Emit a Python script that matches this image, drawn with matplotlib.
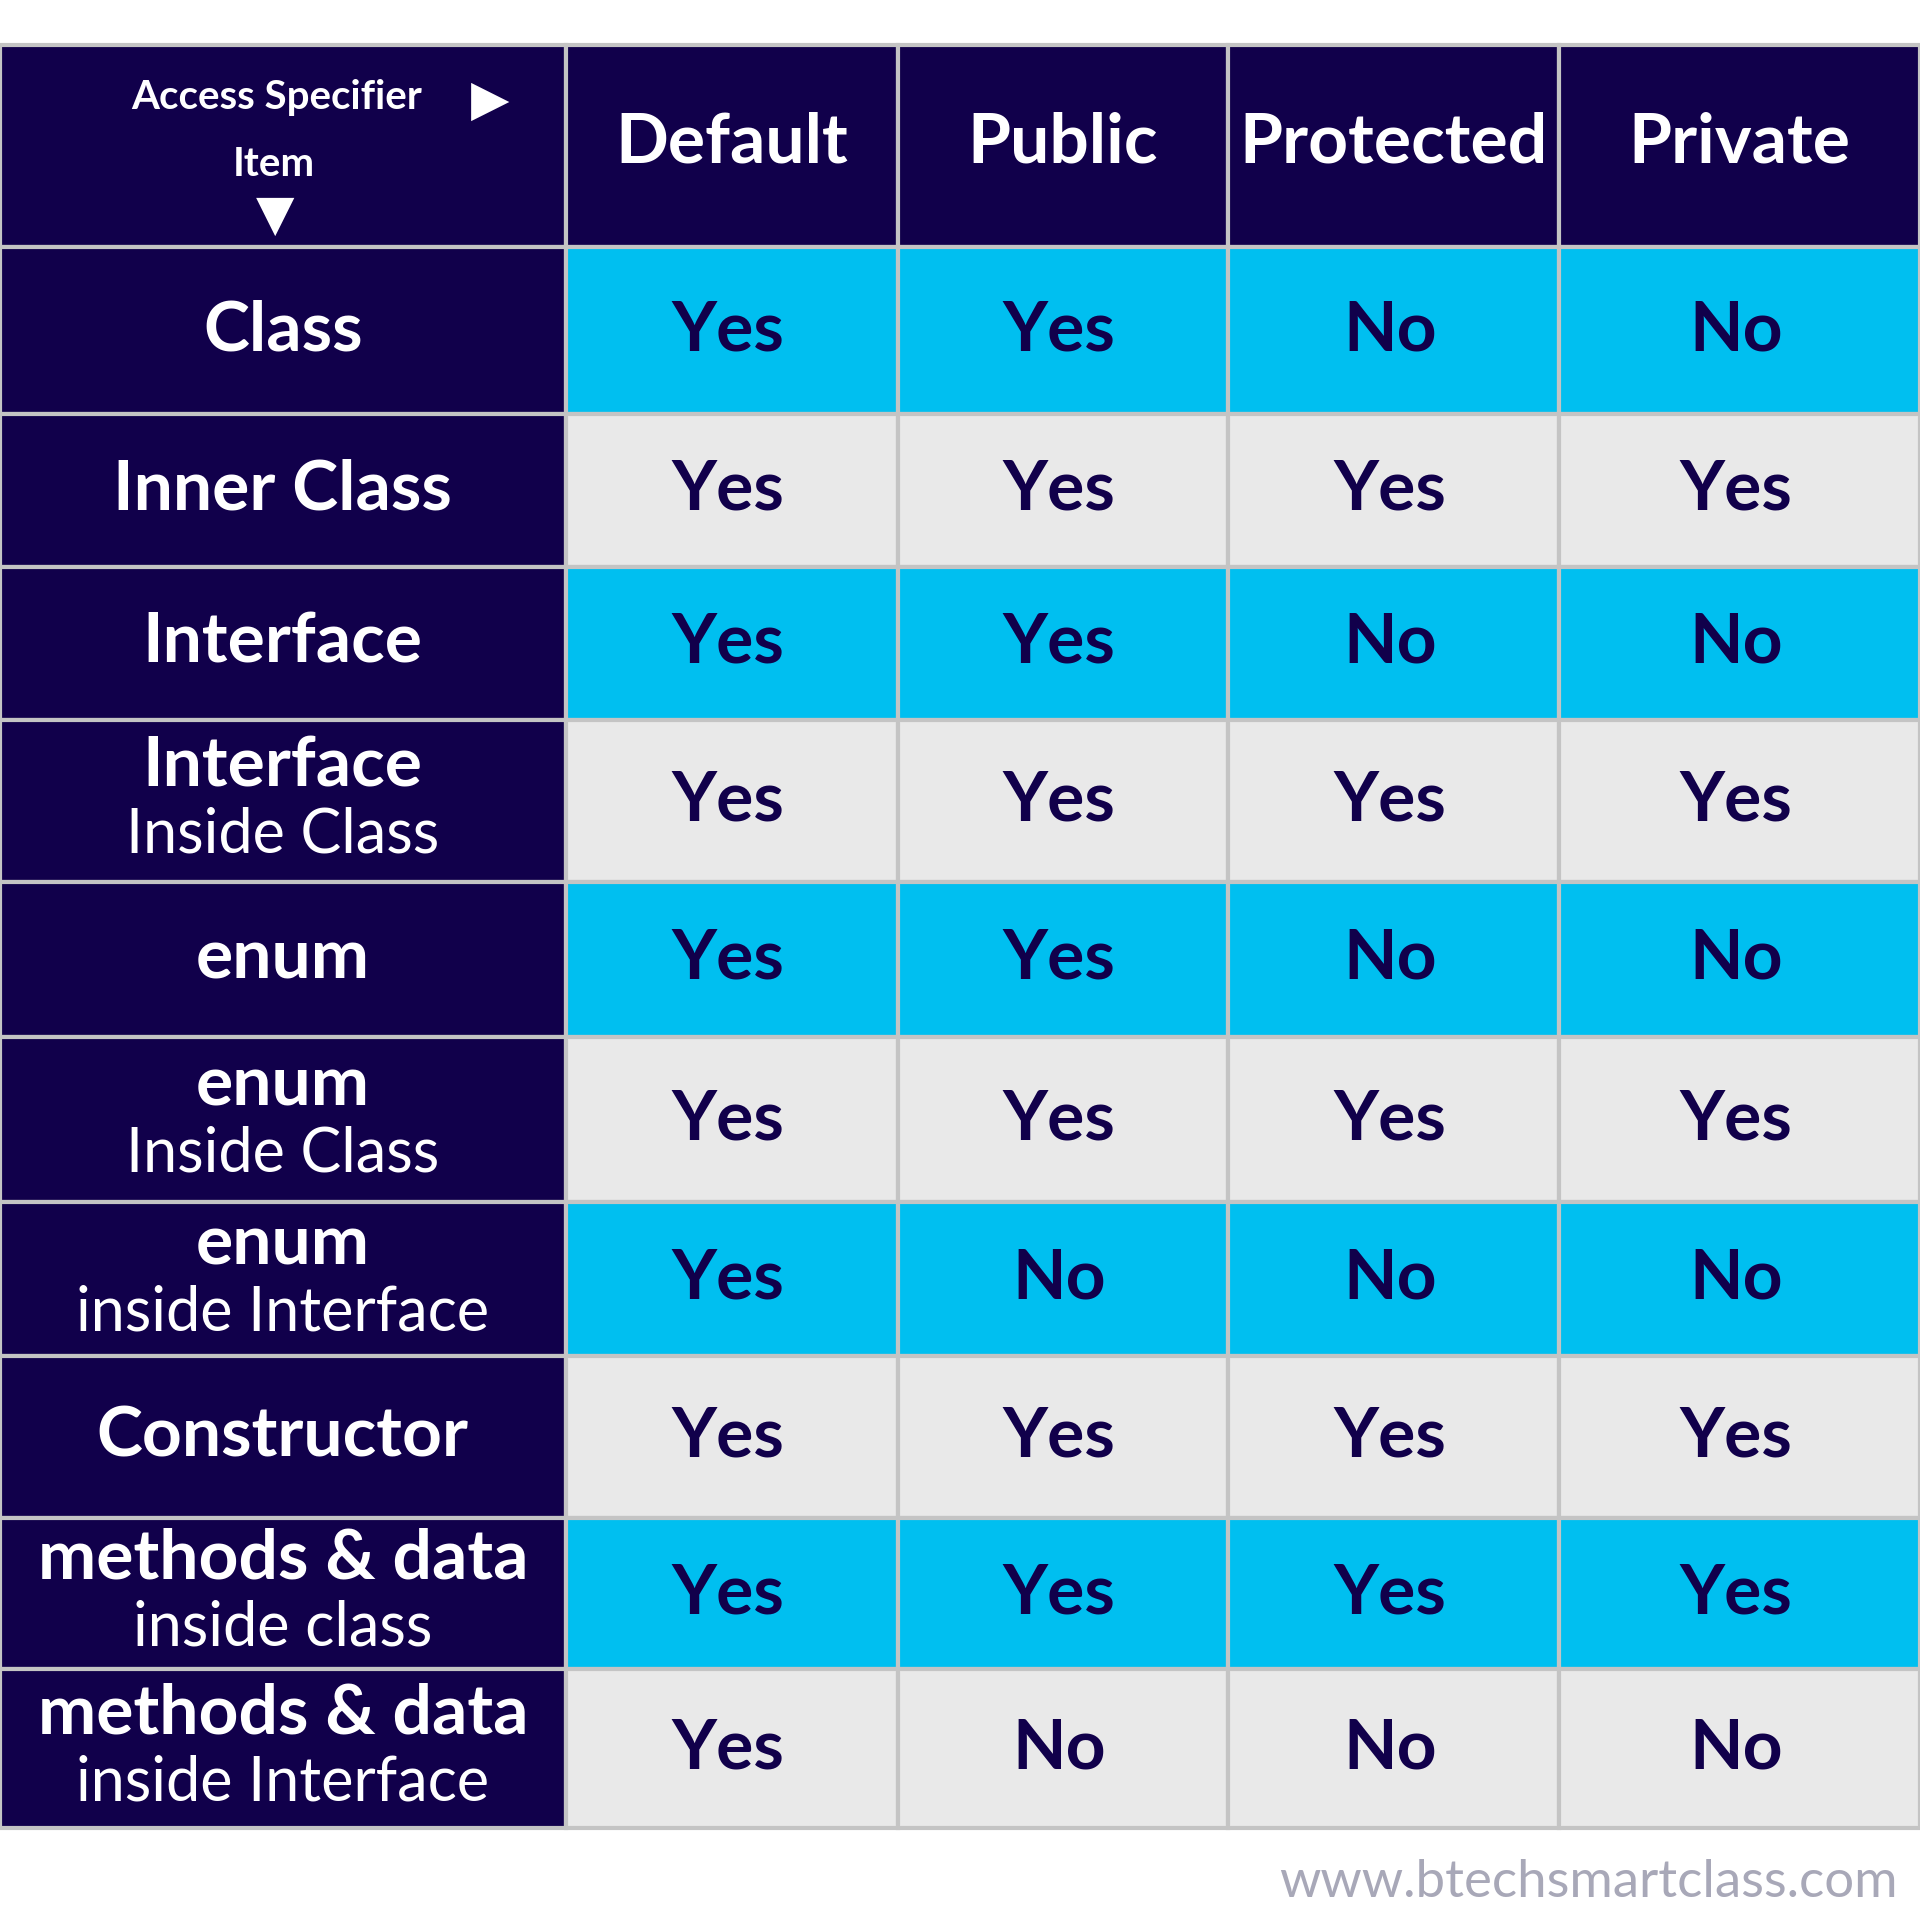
import matplotlib
matplotlib.use("Agg")
import matplotlib.pyplot as plt
from matplotlib.patches import Rectangle

specifiers = ["Default", "Public", "Protected", "Private"]
items = [("Class", ""), ("Inner Class", ""), ("Interface", ""), ("Interface", "Inside Class"),
         ("enum", ""), ("enum", "Inside Class"), ("enum", "inside Interface"),
         ("Constructor", ""), ("methods & data", "inside class"), ("methods & data", "inside Interface")]
default_col = ["Yes"] * 10
public_col = ["Yes", "Yes", "Yes", "Yes", "Yes", "Yes", "No", "Yes", "Yes", "No"]
protected_col = ["No", "Yes", "No", "Yes", "No", "Yes", "No", "Yes", "Yes", "No"]
private_col = ["No", "Yes", "No", "Yes", "No", "Yes", "No", "Yes", "Yes", "No"]
values = [default_col, public_col, protected_col, private_col]

NAVY = "#11004b"; CYAN = "#00bff0"; GRAY = "#e9e9e9"; LINE = "#c4c4c4"
col_edges = [0, 462, 733, 1003, 1273, 1568]
row_edges = [37, 202, 338, 463, 588, 720, 847, 982, 1107, 1240, 1363, 1493]
FONT = "Lato"

fig = plt.figure(figsize=(19.2, 19.2), dpi=100)
ax = fig.add_axes([0, 0, 1, 1])
ax.set_xlim(0, 1568); ax.set_ylim(1568, 0); ax.axis("off")

def cell(x0, x1, y0, y1, c):
    ax.add_patch(Rectangle((x0, y0), x1 - x0, y1 - y0, facecolor=c, edgecolor=LINE, lw=3))

# header
for j in range(5):
    cell(col_edges[j], col_edges[j+1], row_edges[0], row_edges[1], NAVY)
for j, s in enumerate(specifiers):
    ax.text((col_edges[j+1] + col_edges[j+2]) / 2, 117, s, color="white", fontsize=50,
            fontweight="bold", family=FONT, ha="center", va="center")
ax.text(226, 80, "Access Specifier", color="white", fontsize=29, fontweight="bold",
        family=FONT, ha="center", va="center")
ax.text(400, 82, "▶", color="white", fontsize=36, family="DejaVu Sans", ha="center", va="center")
ax.text(224, 134, "Item", color="white", fontsize=29, fontweight="bold", family=FONT, ha="center", va="center")
ax.text(225, 176, "▼", color="white", fontsize=36, family="DejaVu Sans", ha="center", va="center")

for i, (main, sub) in enumerate(items):
    y0, y1 = row_edges[i+1], row_edges[i+2]
    bg = CYAN if i % 2 == 0 else GRAY
    cell(col_edges[0], col_edges[1], y0, y1, NAVY)
    yc = (y0 + y1) / 2
    if sub:
        ax.text(231, yc - 28, main, color="white", fontsize=50, fontweight="bold", family=FONT, ha="center", va="center")
        ax.text(231, yc + 28, sub, color="white", fontsize=44, family=FONT, ha="center", va="center")
    else:
        ax.text(231, yc, main, color="white", fontsize=50, fontweight="bold", family=FONT, ha="center", va="center")
    for j in range(4):
        cell(col_edges[j+1], col_edges[j+2], y0, y1, bg)
        ax.text((col_edges[j+1] + col_edges[j+2]) / 2 - 3, yc, values[j][i], color=NAVY,
                fontsize=50, fontweight="bold", family=FONT, ha="center", va="center")

ax.text(1550, 1537, "www.btechsmartclass.com", color="#a8a8b8", fontsize=38, family=FONT,
        ha="right", va="center")
fig.savefig("out.png", dpi=100, facecolor="white")
